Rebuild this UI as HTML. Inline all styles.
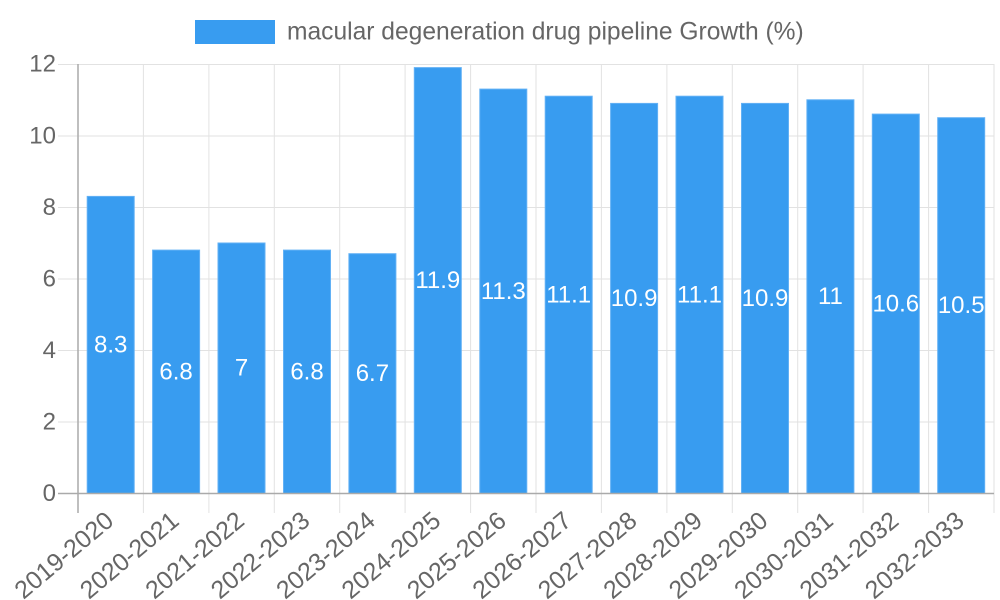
<!DOCTYPE html>
<html>
<head>
<meta charset="utf-8">
<style>
html,body{margin:0;padding:0;background:#fff;}
svg{display:block;}
text{font-family:"Liberation Sans",Arial,sans-serif;}
</style>
</head>
<body>
<svg width="1000" height="600" viewBox="0 0 1000 600" xmlns="http://www.w3.org/2000/svg">
  <!-- legend -->
  <rect x="195" y="20" width="80" height="24" fill="#389cf0"/>
  <text x="287" y="32" font-size="24.6" fill="#666" dominant-baseline="central">macular degeneration drug pipeline Growth (%)</text>

  <!-- horizontal gridlines -->
  <g stroke="#e2e2e2" stroke-width="1">
    <line x1="58" y1="64.5" x2="994" y2="64.5"/>
    <line x1="58" y1="136" x2="994" y2="136"/>
    <line x1="58" y1="207.5" x2="994" y2="207.5"/>
    <line x1="58" y1="279" x2="994" y2="279"/>
    <line x1="58" y1="350.5" x2="994" y2="350.5"/>
    <line x1="58" y1="422" x2="994" y2="422"/>
  </g>
  <!-- vertical gridlines -->
  <g stroke="#e2e2e2" stroke-width="1">
    <line x1="143.4" y1="64" x2="143.4" y2="513"/>
    <line x1="208.9" y1="64" x2="208.9" y2="513"/>
    <line x1="274.3" y1="64" x2="274.3" y2="513"/>
    <line x1="339.7" y1="64" x2="339.7" y2="513"/>
    <line x1="405.1" y1="64" x2="405.1" y2="513"/>
    <line x1="470.6" y1="64" x2="470.6" y2="513"/>
    <line x1="536" y1="64" x2="536" y2="513"/>
    <line x1="601.4" y1="64" x2="601.4" y2="513"/>
    <line x1="666.9" y1="64" x2="666.9" y2="513"/>
    <line x1="732.3" y1="64" x2="732.3" y2="513"/>
    <line x1="797.7" y1="64" x2="797.7" y2="513"/>
    <line x1="863.1" y1="64" x2="863.1" y2="513"/>
    <line x1="928.6" y1="64" x2="928.6" y2="513"/>
    <line x1="994" y1="64" x2="994" y2="513"/>
  </g>

  <!-- bars -->
  <g fill="#389cf0" stroke="#62b1f5" stroke-width="1">
    <rect x="87.2" y="196.4" width="47" height="297.1"/>
    <rect x="152.6" y="250.1" width="47" height="243.4"/>
    <rect x="218" y="243" width="47" height="250.5"/>
    <rect x="283.5" y="250.1" width="47" height="243.4"/>
    <rect x="348.9" y="253.7" width="47" height="239.8"/>
    <rect x="414.3" y="67.6" width="47" height="425.9"/>
    <rect x="479.8" y="89.1" width="47" height="404.4"/>
    <rect x="545.2" y="96.2" width="47" height="397.3"/>
    <rect x="610.6" y="103.4" width="47" height="390.1"/>
    <rect x="676" y="96.2" width="47" height="397.3"/>
    <rect x="741.5" y="103.4" width="47" height="390.1"/>
    <rect x="806.9" y="99.8" width="47" height="393.7"/>
    <rect x="872.3" y="114.1" width="47" height="379.4"/>
    <rect x="937.7" y="117.7" width="47" height="375.8"/>
  </g>

  <!-- axes -->
  <line x1="78" y1="64" x2="78" y2="513" stroke="#aaa" stroke-width="1.5"/>
  <line x1="58" y1="493.5" x2="994" y2="493.5" stroke="#aaa" stroke-width="1.5"/>

  <!-- y tick labels -->
  <g font-size="24" fill="#666" text-anchor="end" dominant-baseline="central">
    <text x="56" y="64">12</text>
    <text x="56" y="136">10</text>
    <text x="56" y="207.5">8</text>
    <text x="56" y="279">6</text>
    <text x="56" y="350.5">4</text>
    <text x="56" y="422">2</text>
    <text x="56" y="493.5">0</text>
  </g>

  <!-- data labels -->
  <g font-size="24" fill="#fff" text-anchor="middle" dominant-baseline="central">
    <text x="110.7" y="345">8.3</text>
    <text x="176.1" y="371.8">6.8</text>
    <text x="241.5" y="368.2">7</text>
    <text x="307" y="371.8">6.8</text>
    <text x="372.4" y="373.6">6.7</text>
    <text x="437.8" y="280.5">11.9</text>
    <text x="503.3" y="291.3">11.3</text>
    <text x="568.7" y="294.9">11.1</text>
    <text x="634.1" y="298.4">10.9</text>
    <text x="699.5" y="294.9">11.1</text>
    <text x="765" y="298.4">10.9</text>
    <text x="830.4" y="296.7">11</text>
    <text x="895.8" y="303.8">10.6</text>
    <text x="961.2" y="305.6">10.5</text>
  </g>

  <!-- x tick labels -->
  <g font-size="25" fill="#666" text-anchor="end" dominant-baseline="central">
    <text transform="translate(110,517) rotate(-40)">2019-2020</text>
    <text transform="translate(175.4,517) rotate(-40)">2020-2021</text>
    <text transform="translate(240.8,517) rotate(-40)">2021-2022</text>
    <text transform="translate(306.3,517) rotate(-40)">2022-2023</text>
    <text transform="translate(371.7,517) rotate(-40)">2023-2024</text>
    <text transform="translate(437.1,517) rotate(-40)">2024-2025</text>
    <text transform="translate(502.6,517) rotate(-40)">2025-2026</text>
    <text transform="translate(568,517) rotate(-40)">2026-2027</text>
    <text transform="translate(633.4,517) rotate(-40)">2027-2028</text>
    <text transform="translate(698.8,517) rotate(-40)">2028-2029</text>
    <text transform="translate(764.3,517) rotate(-40)">2029-2030</text>
    <text transform="translate(829.7,517) rotate(-40)">2030-2031</text>
    <text transform="translate(895.1,517) rotate(-40)">2031-2032</text>
    <text transform="translate(960.5,517) rotate(-40)">2032-2033</text>
  </g>
</svg>
</body>
</html>
